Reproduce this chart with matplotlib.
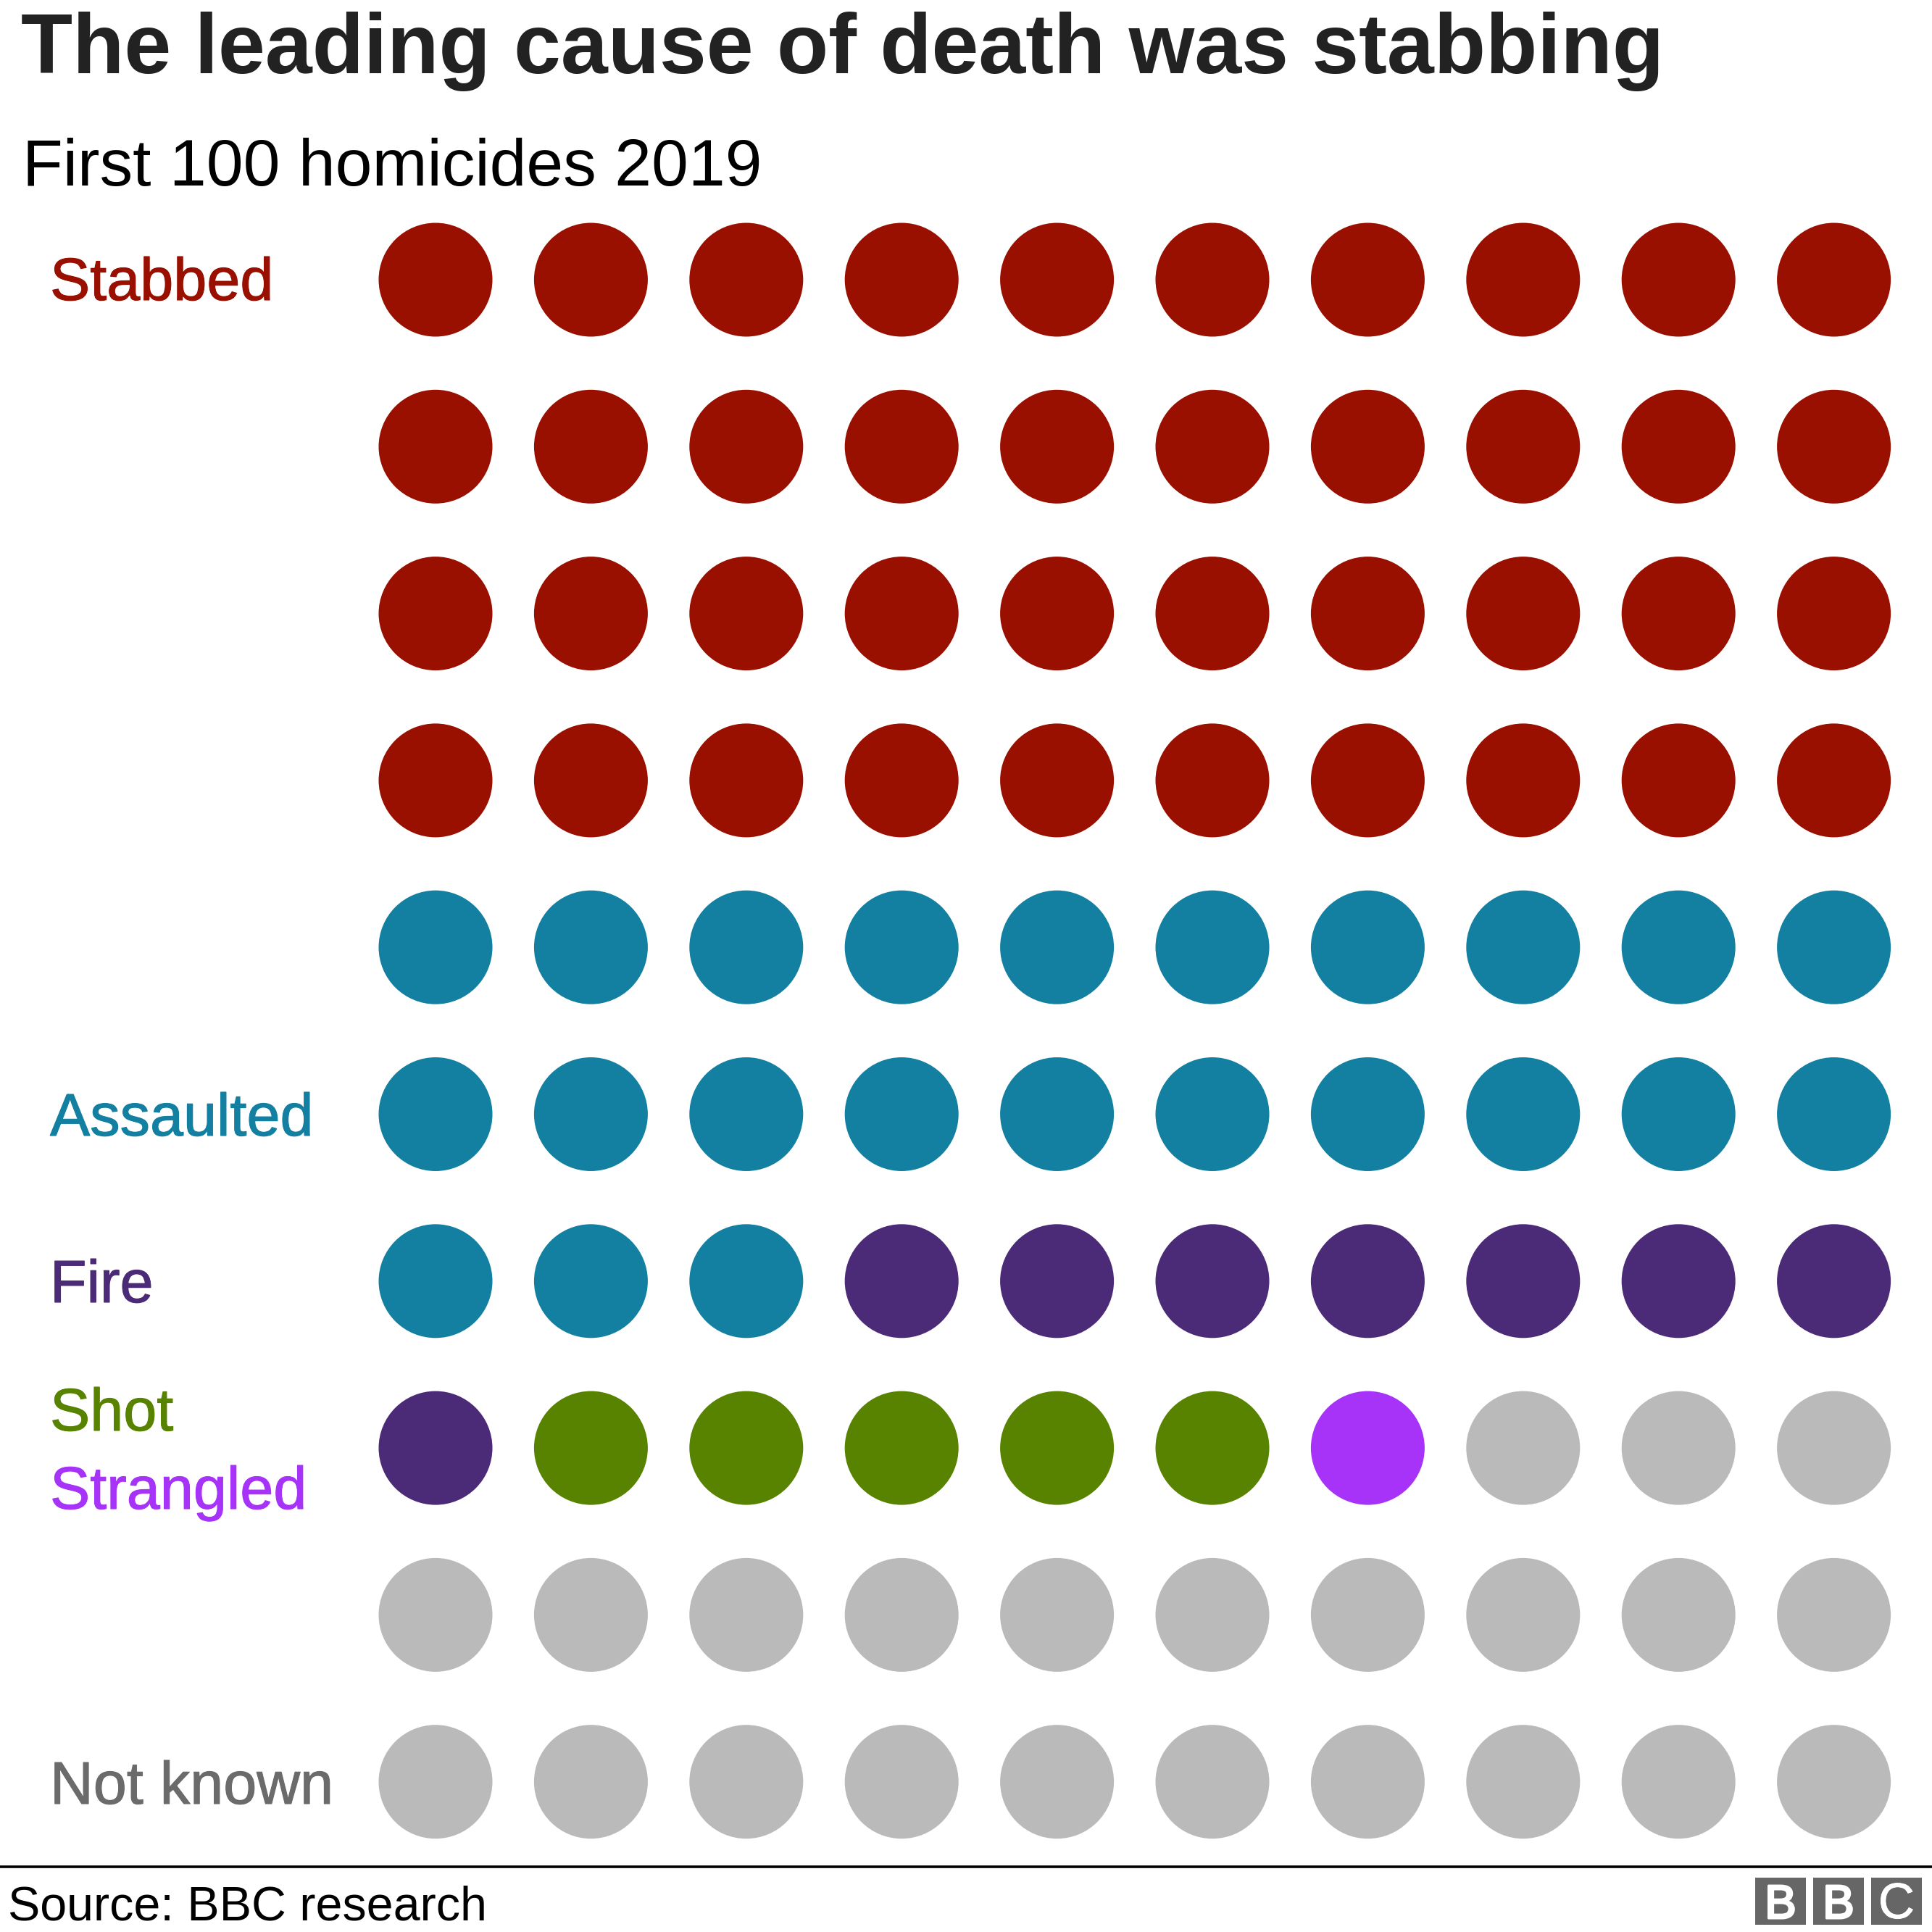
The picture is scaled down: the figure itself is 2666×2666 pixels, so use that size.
import numpy as np
import matplotlib
matplotlib.use('Agg')
import matplotlib.pyplot as plt
import matplotlib.patheffects as pe
from matplotlib.patches import Rectangle

plt.rcParams['font.family'] = ['Liberation Sans', 'DejaVu Sans']

# data
causes = ['Stabbed', 'Assaulted', 'Fire', 'Shot', 'Strangled', 'Not known']
counts = [40, 23, 8, 5, 1, 23]
dot_colors = ['#990F00', '#1380A1', '#4B2A77', '#588300', '#A833F8', '#BABABA']
label_colors = ['#990F00', '#1380A1', '#4B2A77', '#588300', '#A833F8', '#6B6B6B']
label_base_y = [414, 1567, 1797, 1974, 2082, 2489]

title = 'The leading cause of death was stabbing'
subtitle = 'First 100 homicides 2019'
source = 'Source: BBC research'

W = 2666
H = 2666
per_row = 10

fig = plt.figure(figsize=(W / 100, H / 100), dpi=100, facecolor='white')
ax = fig.add_axes([0, 0, 1, 1])
ax.set_xlim(0, W)
ax.set_ylim(H, 0)
ax.axis('off')

# one long list of causes, then wrap it into the 10 x 10 grid
which = np.repeat(np.arange(len(causes)), counts)
cols = np.arange(len(which)) % per_row
rows = np.arange(len(which)) // per_row
x0, dx = 601, 214.4
y0, dy = 386, 230.3
ax.scatter(x0 + cols * dx, y0 + rows * dy, s=(157 * 0.72) ** 2,
           c=[dot_colors[i] for i in which], linewidths=0, zorder=2)

ax.text(29, 101, title, fontsize=84, fontweight='bold', color='#222222', va='baseline')
ax.text(31, 256, subtitle, fontsize=65.7, color='#000000', va='baseline')

for name, col, y in zip(causes, label_colors, label_base_y):
    t = ax.text(69, y, name, fontsize=59.6, color=col, va='baseline')
    t.set_path_effects([pe.withStroke(linewidth=0.8, foreground=col)])

# footer
ax.plot([0, W], [2575.5, 2575.5], color='black', lw=2.6, solid_capstyle='butt')
ax.text(11, 2649, source, fontsize=47.8, color='#000000', va='baseline')

# logo: B is heavier than the regular face, C is thinner and wider than bold
logo_x = [2422, 2502, 2582]
logo_size = [47, 47, 50]
logo_stroke = [2.2, 2.2, 0.6]
for lx, letter, size, stroke in zip(logo_x, 'BBC', logo_size, logo_stroke):
    ax.add_patch(Rectangle((lx, 2591), 70, 65, facecolor='#666666', edgecolor='none'))
    t = ax.text(lx + 35, 2647, letter, fontsize=size, color='white', ha='center', va='baseline')
    t.set_path_effects([pe.withStroke(linewidth=stroke, foreground='white')])

fig.savefig('out.png', dpi=100)
